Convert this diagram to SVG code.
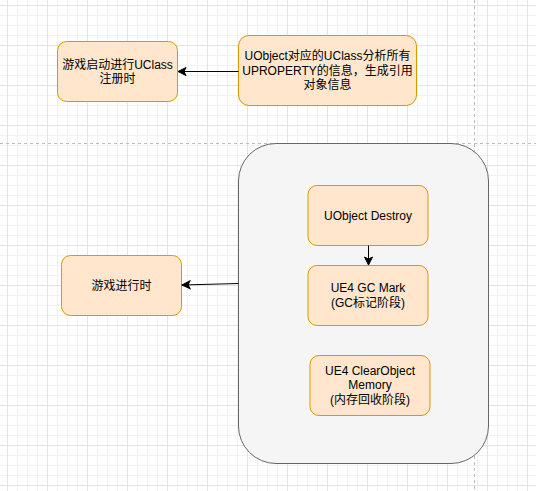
<svg xmlns="http://www.w3.org/2000/svg" width="536" height="491" viewBox="0 0 536 491">
  <defs>
    <pattern id="grid" patternUnits="userSpaceOnUse" x="7" y="5" width="40" height="40">
      <path d="M10.5,0V40M20.5,0V40M30.5,0V40M0,10.5H40M0,20.5H40M0,30.5H40" stroke="#f1f1f1" stroke-width="1" fill="none"/>
      <path d="M0.5,0V40M0,0.5H40" stroke="#e3e3e3" stroke-width="1" fill="none"/>
    </pattern>
    <marker id="arrow" markerUnits="userSpaceOnUse" markerWidth="12" markerHeight="12" viewBox="-10 -6 12 12" refX="0" refY="0" orient="auto">
      <path d="M0,0 L-8,-4 L-6,0 L-8,4 Z" fill="#000" stroke="#000" stroke-width="1" stroke-linejoin="miter"/>
    </marker>
    <style>
      .node { fill: #ffe6cc; stroke: #d79b00; stroke-width: 1; }
      .group { fill: #f5f5f5; stroke: #666666; stroke-width: 1; }
      .label { font-family: "Liberation Sans", "Noto Sans CJK SC", sans-serif; font-size: 12px; fill: #000; text-anchor: middle; }
      .edge { fill: none; stroke: #000; stroke-width: 1; marker-end: url(#arrow); }
      .page { stroke: #bdbdbd; stroke-width: 1; stroke-dasharray: 3 3; fill: none; }
    </style>
  </defs>
  <rect x="0" y="0" width="536" height="491" fill="#ffffff"/>
  <rect x="0" y="0" width="536" height="491" fill="url(#grid)"/>
  <path class="page" d="M474.5,0V491M0,143.5H536"/>

  <g id="node-register">
    <rect class="node" x="57.5" y="41.5" width="120" height="60" rx="9" ry="9"/>
    <text class="label" x="117.5" y="68.5">游戏启动进行UClass</text>
    <text class="label" x="117.5" y="83">注册时</text>
  </g>

  <g id="node-analyze">
    <rect class="node" x="238.5" y="35.5" width="178" height="70" rx="10.5" ry="10.5"/>
    <text class="label" x="327.5" y="60.3">UObject对应的UClass分析所有</text>
    <text class="label" x="327.5" y="74.7">UPROPERTY的信息，生成引用</text>
    <text class="label" x="327.5" y="89.1">对象信息</text>
  </g>

  <g id="node-runtime">
    <rect class="node" x="61.5" y="255.5" width="120" height="60" rx="9" ry="9"/>
    <text class="label" x="121.5" y="289.5">游戏进行时</text>
  </g>

  <g id="group-gc">
    <rect class="group" x="238.5" y="143.5" width="250" height="320" rx="37.5" ry="37.5"/>
  </g>

  <g id="node-destroy">
    <rect class="node" x="308" y="185.5" width="120" height="60" rx="9" ry="9"/>
    <text class="label" x="368" y="219.5">UObject Destroy</text>
  </g>

  <g id="node-mark">
    <rect class="node" x="308" y="265.5" width="120" height="60" rx="9" ry="9"/>
    <text class="label" x="368" y="292.3">UE4 GC Mark</text>
    <text class="label" x="368" y="306.7">(GC标记阶段)</text>
  </g>

  <g id="node-clear">
    <rect class="node" x="310" y="355.5" width="120" height="60" rx="9" ry="9"/>
    <text class="label" x="370" y="374.9">UE4 ClearObject</text>
    <text class="label" x="370" y="389.3">Memory</text>
    <text class="label" x="370" y="403.7">(内存回收阶段)</text>
  </g>

  <g id="connectors">
    <path class="edge" d="M238.5,71.5 L178,71.5"/>
    <path class="edge" d="M368.5,245.5 L368.5,265"/>
    <path class="edge" d="M238.5,283.5 L182,285"/>
  </g>
</svg>
